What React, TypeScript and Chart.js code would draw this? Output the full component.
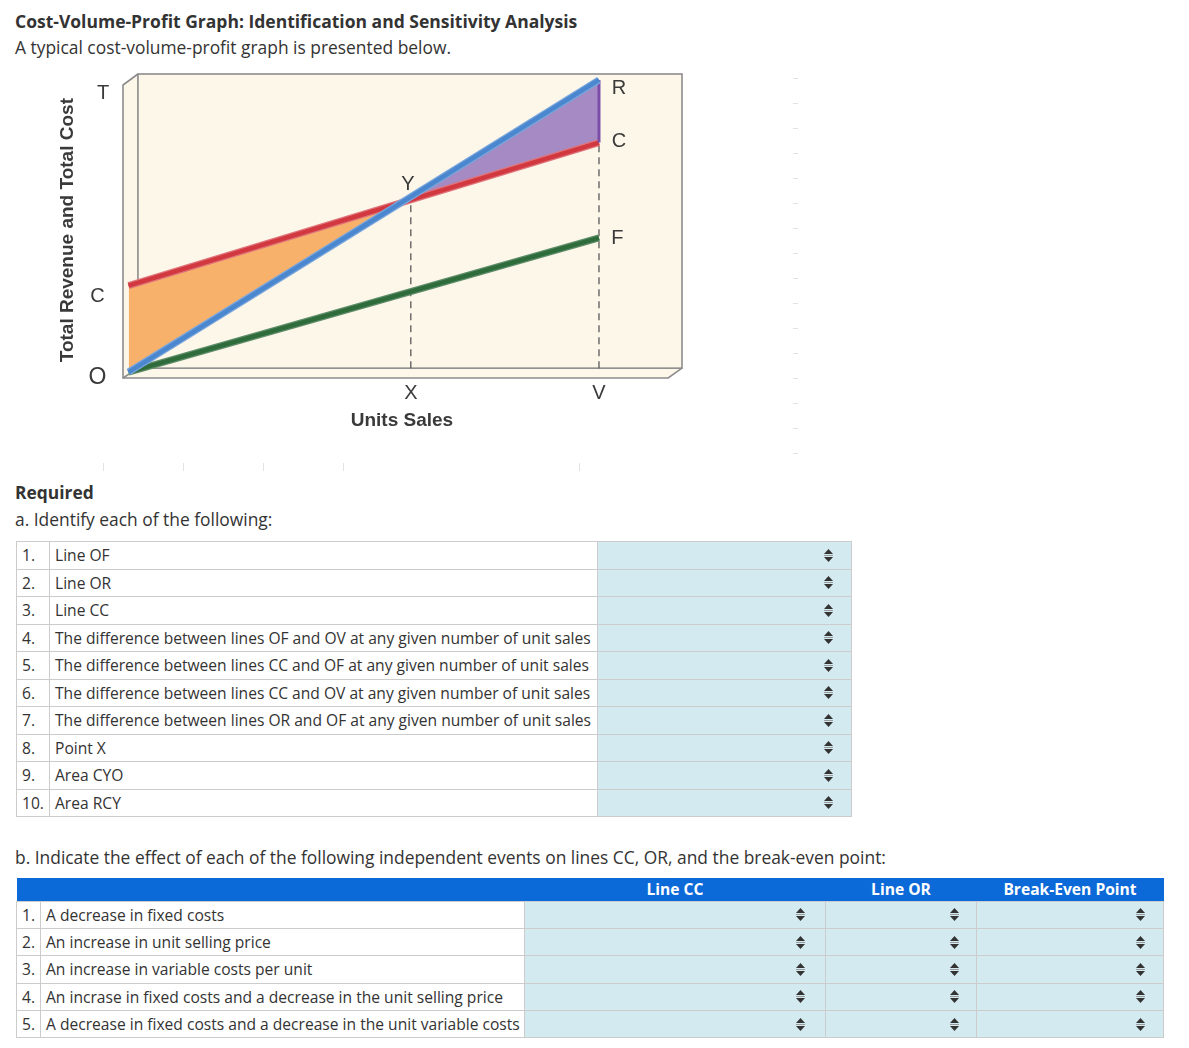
import React, { useEffect, useRef } from "react";
import { Chart, registerables } from "chart.js";

Chart.register(...registerables);

// ---------- chart data ----------
const unitsSold = [0, 85];
const totalRevenue = [0, 98];
const totalCost = [29, 77];
const variableCost = [0, 45];
const breakEvenUnits = 51;
const breakEvenAmount = 58;
const salesUnits = 85;
const floorLevel = 1.3;

const yLetters = ["T", "C", "O"];
const yLetterValues = [93.6, 25.2, -2];
const xLetters = ["X", "V"];
const xLetterValues = [51, 85];
const pointLetters = ["Y", "R", "C", "F"];
const pointLetterX = [50.5, 88.6, 88.6, 88.3];
const pointLetterY = [63, 95.3, 77.2, 44.8];

const xAxisTitle = "Units Sales";
const yAxisTitle = "Total Revenue and Total Cost";

// ---------- table data ----------
const partAItems = [
  "Line OF",
  "Line OR",
  "Line CC",
  "The difference between lines OF and OV at any given number of unit sales",
  "The difference between lines CC and OF at any given number of unit sales",
  "The difference between lines CC and OV at any given number of unit sales",
  "The difference between lines OR and OF at any given number of unit sales",
  "Point X",
  "Area CYO",
  "Area RCY",
];
const partBHeaders = ["Line CC", "Line OR", "Break-Even Point"];
const partBItems = [
  "A decrease in fixed costs",
  "An increase in unit selling price",
  "An increase in variable costs per unit",
  "An incrase in fixed costs and a decrease in the unit selling price",
  "A decrease in fixed costs and a decrease in the unit variable costs",
];

const pts = (xs: number[], ys: number[]) => xs.map((x, i) => ({ x, y: ys[i] }));

const COLORS = {
  cream: "#FDF7EA",
  edge: "#8c8c8c",
  orange: "#F7B16B",
  purple: "#A68AC3",
  purpleLine: "#7B4DA8",
  red: "#D2383F",
  redLight: "#E0737A",
  blue: "#4A87CF",
  blueLight: "#78A5DC",
  green: "#2F6C3C",
  greenLight: "#5E8C68",
  dash: "#5a5a5a",
  text: "#3a3a3a",
};

const decorPlugin = {
  id: "cvpDecor",
  beforeDatasetsDraw(chart: any) {
    const { ctx } = chart;
    const xs = chart.scales.x;
    const ys = chart.scales.y;
    const px = (v: number) => xs.getPixelForValue(v);
    const py = (v: number) => ys.getPixelForValue(v);
    ctx.save();
    ctx.fillStyle = COLORS.cream;
    ctx.beginPath();
    ctx.moveTo(px(-1), py(96.3));
    ctx.lineTo(px(1.7), py(100));
    ctx.lineTo(px(100), py(100));
    ctx.lineTo(px(100), py(floorLevel));
    ctx.lineTo(px(97.5), py(-2));
    ctx.lineTo(px(-1), py(-2));
    ctx.closePath();
    ctx.fill();
    ctx.strokeStyle = COLORS.edge;
    ctx.lineWidth = 1.6;
    ctx.strokeRect(px(1.7), py(100), px(100) - px(1.7), py(floorLevel) - py(100));
    ctx.beginPath();
    ctx.moveTo(px(1.7), py(100));
    ctx.lineTo(px(-1), py(96.3));
    ctx.lineTo(px(-1), py(-2));
    ctx.lineTo(px(97.5), py(-2));
    ctx.lineTo(px(100), py(floorLevel));
    ctx.stroke();
    ctx.beginPath();
    ctx.moveTo(px(-1), py(-2));
    ctx.lineTo(px(1.7), py(floorLevel));
    ctx.stroke();
    ctx.restore();
  },
  afterDatasetsDraw(chart: any) {
    const { ctx } = chart;
    const xs = chart.scales.x;
    const ys = chart.scales.y;
    const px = (v: number) => xs.getPixelForValue(v);
    const py = (v: number) => ys.getPixelForValue(v);
    const f = (s: number, b = "") => `${b}${s}px 'Liberation Sans', Arial, sans-serif`;
    ctx.save();
    ctx.fillStyle = COLORS.text;
    ctx.textAlign = "center";
    ctx.textBaseline = "middle";
    yLetters.forEach((l, i) => {
      const xv = l === "T" ? -4.6 : -5.6;
      ctx.font = l === "O" ? f(23) : f(20);
      ctx.fillText(l, px(xv), py(yLetterValues[i]));
    });
    ctx.font = f(20);
    xLetters.forEach((l, i) => ctx.fillText(l, px(xLetterValues[i]), py(-7.2)));
    pointLetters.forEach((l, i) => ctx.fillText(l, px(pointLetterX[i]), py(pointLetterY[i])));
    ctx.font = f(19, "bold ");
    ctx.fillText(xAxisTitle, px(49.4), py(-16.4));
    ctx.save();
    ctx.translate(px(-11), py(47.6));
    ctx.rotate(-Math.PI / 2);
    ctx.fillText(yAxisTitle, 0, 0);
    ctx.restore();
    // faint artifact ticks of the source image
    ctx.strokeStyle = "#e3e3e3";
    ctx.lineWidth = 1;
    const right = chart.chartArea.right;
    const top = chart.chartArea.top;
    for (let k = 0; k < 16; k++) {
      const y = Math.round(top + 4 + 25 * k) + 0.5;
      ctx.beginPath();
      ctx.moveTo(right + 111, y);
      ctx.lineTo(right + 116, y);
      ctx.stroke();
    }
    const bottom = chart.chartArea.bottom;
    [-20, 60, 140, 220, 456].forEach((dx) => {
      const x = Math.round(chart.chartArea.left + dx) + 0.5;
      ctx.beginPath();
      ctx.moveTo(x, bottom + 85);
      ctx.lineTo(x, bottom + 93);
      ctx.stroke();
    });
    ctx.restore();
  },
};

function CvpChart() {
  const ref = useRef<HTMLCanvasElement | null>(null);
  useEffect(() => {
    if (!ref.current) return;
    const lineBase = { pointRadius: 0, borderWidth: 6, fill: false, tension: 0 };
    const tube = (label: string, ys: number[], light: string, dark: string, order: number) => [
      { ...lineBase, label: label + " shade", data: pts(unitsSold, ys), borderColor: light, borderWidth: 7, order: order + 0.5 },
      { ...lineBase, label, data: pts(unitsSold, ys), borderColor: dark, borderWidth: 4.5, order },
    ];
    const chart = new Chart(ref.current, {
      type: "line",
      data: {
        datasets: [
          {
            ...lineBase,
            label: "fill",
            data: pts(unitsSold, totalCost),
            borderWidth: 0,
            borderColor: "rgba(0,0,0,0)",
            fill: { target: 1, above: COLORS.orange, below: COLORS.purple },
            order: 20,
          } as any,
          {
            ...lineBase,
            label: "Total revenue base",
            data: pts(unitsSold, totalRevenue),
            borderColor: COLORS.blueLight,
            borderWidth: 7,
            order: 1.5,
          },
          { ...lineBase, label: "Total revenue (OR)", data: pts(unitsSold, totalRevenue), borderColor: COLORS.blue, borderWidth: 4.5, order: 1 },
          ...tube("Total cost (CC)", totalCost, COLORS.redLight, COLORS.red, 4),
          ...tube("Variable cost (OF)", variableCost, COLORS.greenLight, COLORS.green, 5),
          {
            ...lineBase,
            label: "break-even",
            data: [
              { x: breakEvenUnits, y: floorLevel },
              { x: breakEvenUnits, y: breakEvenAmount },
            ],
            borderColor: COLORS.dash,
            borderWidth: 1.3,
            borderDash: [7, 5],
            order: 9,
          },
          {
            ...lineBase,
            label: "sales",
            data: [
              { x: salesUnits, y: floorLevel },
              { x: salesUnits, y: totalRevenue[1] },
            ],
            borderColor: COLORS.dash,
            borderWidth: 1.3,
            borderDash: [7, 5],
            order: 9,
          },
          {
            ...lineBase,
            label: "profit",
            data: [
              { x: salesUnits, y: totalCost[1] },
              { x: salesUnits, y: totalRevenue[1] },
            ],
            borderColor: COLORS.purpleLine,
            borderWidth: 3,
            order: 2,
          },
        ],
      },
      options: {
        animation: false,
        responsive: false,
        devicePixelRatio: 1,
        layout: { padding: { left: 115, right: 118, top: 6, bottom: 96 } },
        plugins: { legend: { display: false }, tooltip: { enabled: false }, title: { display: false } },
        scales: {
          x: { type: "linear", min: -1, max: 100, display: false },
          y: { type: "linear", min: -2, max: 100, display: false },
        },
        events: [],
      } as any,
      plugins: [decorPlugin],
    });
    return () => chart.destroy();
  }, []);
  return <canvas ref={ref} width={792} height={406} style={{ width: 792, height: 406, display: "block" }} />;
}

function SortIcon() {
  return (
    <svg width="9" height="13" viewBox="0 0 9 13" style={{ display: "block" }}>
      <polygon points="0,5 4.5,0 9,5" fill="#333" />
      <rect x="0" y="6" width="9" height="1" fill="#9a9a9a" />
      <polygon points="0,8 9,8 4.5,13" fill="#333" />
    </svg>
  );
}

const FONT = "'Open Sans', 'Noto Sans', sans-serif";
const BORDER = "1px solid #cccccc";
const LIGHT = "#D4EAF1";

function SelectCell({ pad }: { pad: number }) {
  return (
    <td style={{ border: BORDER, background: LIGHT, padding: 0 }}>
      <div style={{ display: "flex", justifyContent: "flex-end", paddingRight: pad }}>
        <SortIcon />
      </div>
    </td>
  );
}

export default function App() {
  const textStyle: React.CSSProperties = { position: "absolute", left: 7, fontSize: 17.4, lineHeight: "20px", color: "#333", whiteSpace: "nowrap" };
  const cellText: React.CSSProperties = { border: BORDER, padding: "0 0 0 5px", fontSize: 15.6, color: "#333", whiteSpace: "nowrap", overflow: "hidden" };
  return (
    <div style={{ position: "relative", width: 1173, height: 1032, fontFamily: FONT }}>
      <div style={{ ...textStyle, top: 3, fontWeight: 700, fontSize: 17.5 }}>
        Cost-Volume-Profit Graph: Identification and Sensitivity Analysis
      </div>
      <div style={{ ...textStyle, top: 29 }}>A typical cost-volume-profit graph is presented below.</div>
      <div style={{ position: "absolute", left: 0, top: 60 }}>
        <CvpChart />
      </div>
      <div style={{ ...textStyle, top: 474, fontWeight: 700 }}>Required</div>
      <div style={{ ...textStyle, top: 501 }}>a. Identify each of the following:</div>
      <table
        style={{ position: "absolute", left: 8, top: 533, borderCollapse: "collapse", tableLayout: "fixed", width: 835 }}
      >
        <colgroup>
          <col style={{ width: 33 }} />
          <col style={{ width: 548 }} />
          <col style={{ width: 254 }} />
        </colgroup>
        <tbody>
          {partAItems.map((item, i) => (
            <tr key={i} style={{ height: 27.5 }}>
              <td style={cellText}>{i + 1}.</td>
              <td style={cellText}>{item}</td>
              <SelectCell pad={18} />
            </tr>
          ))}
        </tbody>
      </table>
      <div style={{ ...textStyle, top: 839 }}>
        b. Indicate the effect of each of the following independent events on lines CC, OR, and the break-even point:
      </div>
      <table
        style={{ position: "absolute", left: 8, top: 870, borderCollapse: "collapse", tableLayout: "fixed", width: 1147 }}
      >
        <colgroup>
          <col style={{ width: 24 }} />
          <col style={{ width: 484 }} />
          <col style={{ width: 301 }} />
          <col style={{ width: 151 }} />
          <col style={{ width: 187 }} />
        </colgroup>
        <thead>
          <tr style={{ height: 23, background: "#0B69D8" }}>
            <th />
            <th />
            {partBHeaders.map((h) => (
              <th key={h} style={{ color: "#fff", fontSize: 15.6, fontWeight: 700, padding: 0, textAlign: "center" }}>
                {h}
              </th>
            ))}
          </tr>
        </thead>
        <tbody>
          {partBItems.map((item, i) => (
            <tr key={i} style={{ height: 27.4 }}>
              <td style={{ ...cellText, padding: "0 0 0 5px" }}>{i + 1}.</td>
              <td style={cellText}>{item}</td>
              <SelectCell pad={20} />
              <SelectCell pad={17} />
              <SelectCell pad={18} />
            </tr>
          ))}
        </tbody>
      </table>
    </div>
  );
}
